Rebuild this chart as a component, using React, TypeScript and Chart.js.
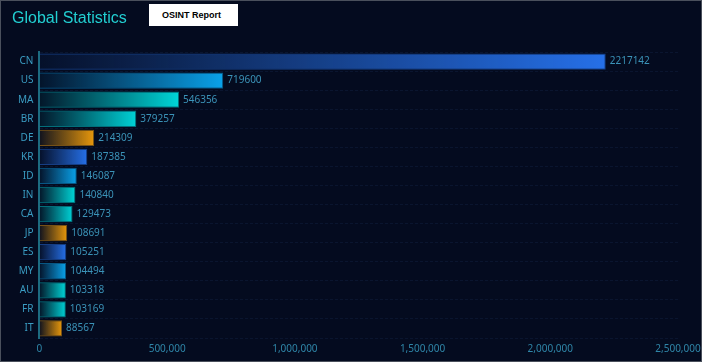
import React, { useEffect, useRef } from "react";
import { Chart, registerables } from "chart.js";

Chart.register(...registerables);

const categories = ["CN", "US", "MA", "BR", "DE", "KR", "ID", "IN", "CA", "JP", "ES", "MY", "AU", "FR", "IT"];
const values = [2217142, 719600, 546356, 379257, 214309, 187385, 146087, 140840, 129473, 108691, 105251, 104494, 103318, 103169, 88567];
const xTicks = [0, 500000, 1000000, 1500000, 2000000, 2500000];
const palette = ["#2670e8", "#0aa2ea", "#00d6d8", "#00d2d6", "#e8980c"];

function hexToRgba(hex: string, a: number) {
  const n = parseInt(hex.slice(1), 16);
  return `rgba(${(n >> 16) & 255},${(n >> 8) & 255},${n & 255},${a})`;
}

const valueLabels = {
  id: "valueLabels",
  afterDatasetsDraw(chart: any) {
    const ctx = chart.ctx;
    const meta = chart.getDatasetMeta(0);
    ctx.save();
    ctx.font = "10px 'Noto Sans', sans-serif";
    ctx.fillStyle = "#3b93b8";
    ctx.textAlign = "left";
    ctx.textBaseline = "middle";
    meta.data.forEach((bar: any, i: number) => {
      ctx.fillText(String(values[i]), bar.x + 4, bar.y);
    });
    ctx.restore();
  },
};

export default function App() {
  const ref = useRef<HTMLCanvasElement>(null);
  useEffect(() => {
    const chart = new Chart(ref.current!, {
      type: "bar",
      data: {
        labels: categories,
        datasets: [
          {
            data: values,
            backgroundColor: (c: any) => {
              const chart = c.chart;
              const xs = chart.scales && chart.scales.x;
              const col = palette[c.dataIndex % palette.length];
              if (!xs || c.dataIndex === undefined) return col;
              const x0 = xs.getPixelForValue(0);
              const x1 = xs.getPixelForValue(values[c.dataIndex]);
              if (!isFinite(x0) || !isFinite(x1) || x1 - x0 < 1) return col;
              const g = chart.ctx.createLinearGradient(x0, 0, x1, 0);
              g.addColorStop(0, hexToRgba(col, 0.06));
              g.addColorStop(1, hexToRgba(col, 1));
              return g;
            },
            borderColor: (c: any) => hexToRgba(palette[c.dataIndex % palette.length], 0.5),
            borderWidth: 1,
            barPercentage: 0.9,
            categoryPercentage: 0.95,
          },
        ],
      },
      options: {
        indexAxis: "y",
        animation: false,
        responsive: false,
        maintainAspectRatio: false,
        layout: { padding: { left: 11, right: 0, top: 51, bottom: 1 } },
        plugins: { legend: { display: false }, tooltip: { enabled: false }, title: { display: false } },
        scales: {
          x: {
            min: 0,
            max: 2500000,
            afterBuildTicks: (axis: any) => {
              axis.ticks = xTicks.map((v) => ({ value: v }));
            },
            afterFit: (s: any) => {
              s.paddingRight = 23;
            },
            grid: { display: false, drawTicks: false },
            border: { display: false },
            ticks: {
              color: "#2f86a8",
              font: { family: "'Noto Sans', sans-serif", size: 10 },
              padding: 5,
              maxRotation: 0,
              callback: (v: any) => Number(v).toLocaleString("en-US"),
            },
          },
          y: {
            grid: {
              color: "rgba(30,52,90,0.28)",
              drawTicks: false,
              offset: true,
            },
            border: { display: true, color: "#1d6b80", width: 2, dash: [3, 2] },
            ticks: {
              color: "#3a9cc2",
              font: { family: "'Noto Sans', sans-serif", size: 10 },
              padding: 6,
            },
          },
        },
      },
      plugins: [valueLabels],
    } as any);
    return () => chart.destroy();
  }, []);

  return (
    <div
      style={{
        position: "fixed",
        left: 0,
        top: 0,
        width: 702,
        height: 362,
        boxSizing: "border-box",
        background: "#040b1f",
        border: "1px solid #4a505c",
        overflow: "hidden",
      }}
    >
      <canvas ref={ref} width={700} height={360} style={{ position: "absolute", left: 0, top: 0 }} />
      <div
        style={{
          position: "absolute",
          left: 11,
          top: 8,
          color: "#22cfd2",
          font: "16px 'Liberation Sans', Arial, sans-serif",
        }}
      >
        Global Statistics
      </div>
      <div
        style={{
          position: "absolute",
          left: 148,
          top: 3,
          width: 89,
          height: 22,
          background: "#ffffff",
          color: "#000",
          font: "bold 9px 'Liberation Sans', Arial, sans-serif",
          lineHeight: "22px",
          paddingLeft: 13,
          boxSizing: "border-box",
        }}
      >
        OSINT Report
      </div>
    </div>
  );
}
